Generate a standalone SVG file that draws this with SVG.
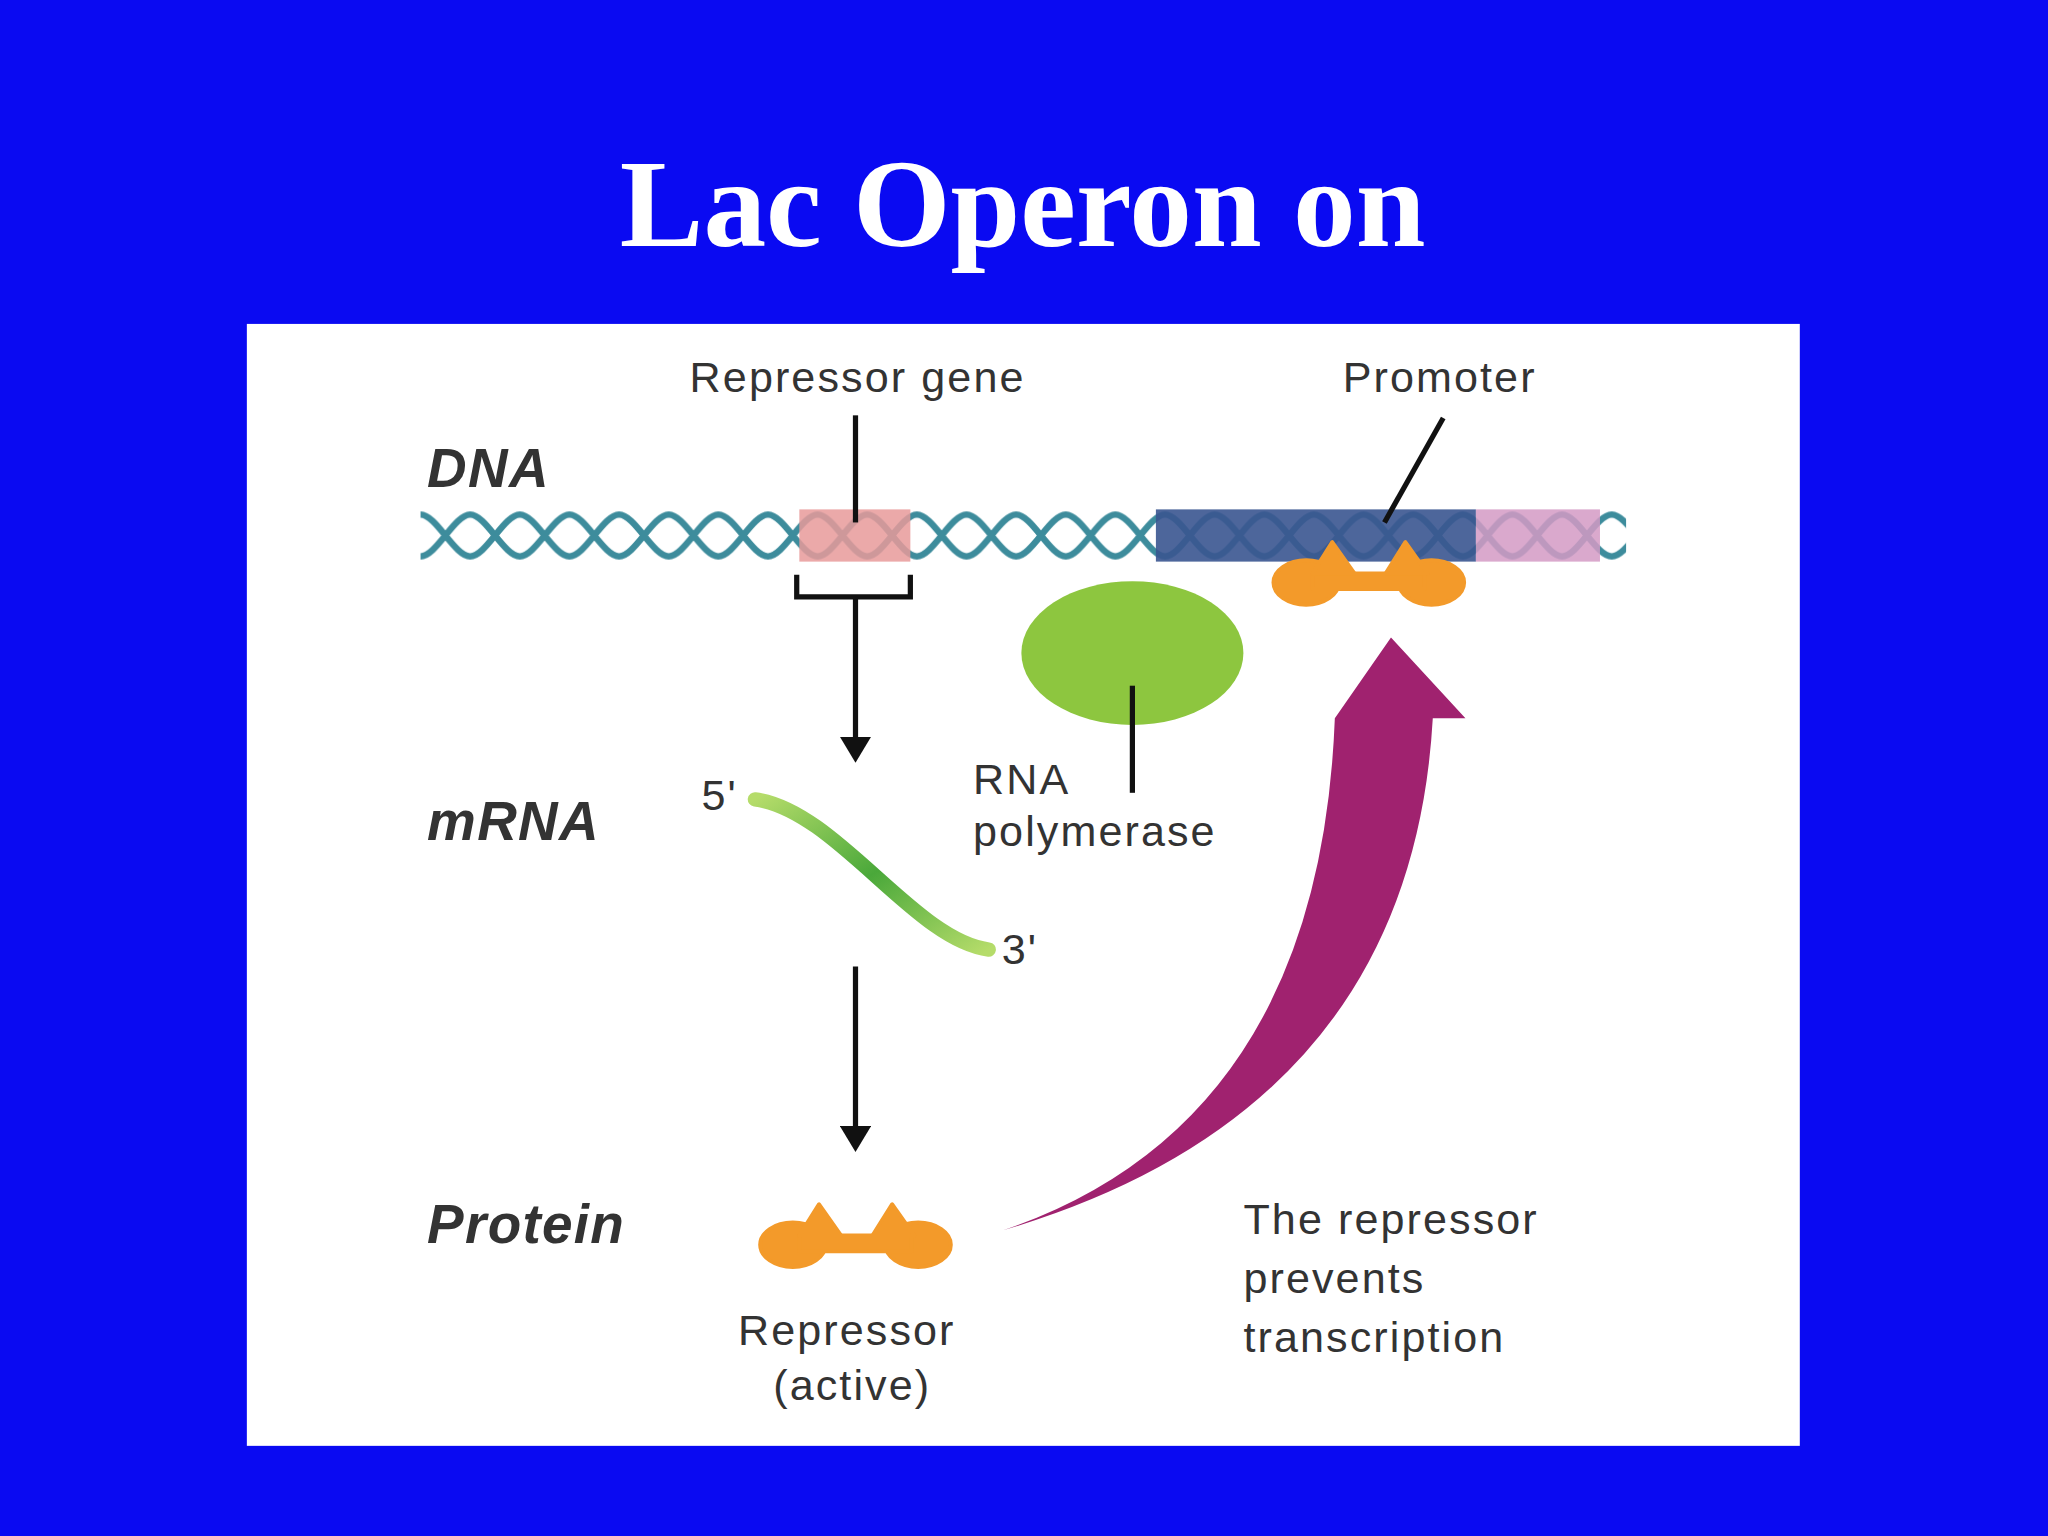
<svg xmlns="http://www.w3.org/2000/svg" width="2048" height="1536" viewBox="0 0 2048 1536">
<style>
.lb{font-family:"Liberation Sans",Arial,sans-serif;font-size:33px;letter-spacing:1.6px;fill:#333}
.hd{font-family:"Liberation Sans",Arial,sans-serif;font-size:42px;font-weight:bold;font-style:italic;letter-spacing:1px;fill:#333}
.ln{stroke:#111;stroke-width:4;fill:none}
</style>
<defs>
<pattern id="hx" x="322" y="390" width="38" height="40" patternUnits="userSpaceOnUse">
<path d="M0,4 C12,4 26,36 38,36 M0,36 C12,36 26,4 38,4" stroke="#3d8c9c" stroke-width="5" fill="none"/>
</pattern>
<marker id="ah" markerWidth="5" markerHeight="6" refX="4" refY="3" orient="auto" markerUnits="strokeWidth"><path d="M0,0 L5,3 L0,6 Z" fill="#111"/></marker>
<linearGradient id="mg" x1="0" y1="0" x2="1" y2="1"><stop offset="0" stop-color="#b5dc6a"/><stop offset="0.5" stop-color="#4aa83a"/><stop offset="1" stop-color="#b5dc6a"/></linearGradient>
<g id="rep" fill="#f39a2a" stroke="#f39a2a" stroke-linejoin="round" stroke-width="3">
<ellipse cx="25" cy="33" rx="25" ry="17"/><ellipse cx="121" cy="33" rx="25" ry="17"/>
<rect x="30" y="26" width="86" height="12"/>
<path d="M45,2 L30,26 L62,26 Z M101,2 L86,26 L118,26 Z"/>
</g>
</defs>
<rect width="2048" height="1536" fill="#0a0af2"/>
<g transform="scale(1.3061)">
<text x="783" y="188" text-anchor="middle" font-family="Liberation Serif,'Times New Roman',serif" font-weight="bold" font-size="96" fill="#fff">Lac Operon on</text>
<rect x="189" y="248" width="1189" height="859" fill="#fff"/>
<g id="dna">
<rect x="322" y="390" width="923" height="40" fill="url(#hx)"/>
<rect x="612" y="390" width="85" height="40" fill="#e89a9a" opacity="0.85"/>
<rect x="885" y="390" width="245" height="40" fill="#3a5590" opacity="0.9"/>
<rect x="1130" y="390" width="95" height="40" fill="#d49ac4" opacity="0.85"/>
<text class="hd" x="327" y="373">DNA</text>
</g>
<g id="labels">
<text class="lb" x="528" y="300">Repressor gene</text>
<text class="lb" x="1028" y="300">Promoter</text>
<text class="hd" x="327" y="643">mRNA</text>
<text class="hd" x="327" y="952">Protein</text>
<text class="lb" x="537" y="620">5'</text>
<text class="lb" x="767" y="738">3'</text>
<text class="lb" x="745" y="608">RNA</text>
<text class="lb" x="745" y="648">polymerase</text>
<text class="lb" x="565" y="1030">Repressor</text>
<text class="lb" x="592" y="1072">(active)</text>
<text class="lb" x="952" y="945">The repressor</text>
<text class="lb" x="952" y="990">prevents</text>
<text class="lb" x="952" y="1035">transcription</text>
</g>
<g id="polymerase"><ellipse cx="867" cy="500" rx="85" ry="55" fill="#8dc63f"/></g>
<g id="mrna"><path d="M578,612 C640,620 700,720 757,727" stroke="url(#mg)" stroke-width="11" stroke-linecap="round" fill="none"/></g>
<g id="repressor-dna"><use href="#rep" x="975" y="413"/></g>
<g id="repressor-protein"><use href="#rep" x="582" y="920"/></g>
<g id="connectors">
<line class="ln" x1="655" y1="318" x2="655" y2="400"/>
<line class="ln" x1="1105" y1="320" x2="1060" y2="400"/>
<path class="ln" d="M610,440 V457 H697 V440"/>
<line class="ln" x1="655" y1="457" x2="655" y2="580" marker-end="url(#ah)"/>
<line class="ln" x1="867" y1="525" x2="867" y2="607"/>
<line class="ln" x1="655" y1="740" x2="655" y2="878" marker-end="url(#ah)"/>
<path d="M768,942 Q1010,860 1022,550 L1065,488 L1122,550 L1097,550 Q1080,850 768,942 Z" fill="#a0226f"/>
</g>
</g>
</svg>
